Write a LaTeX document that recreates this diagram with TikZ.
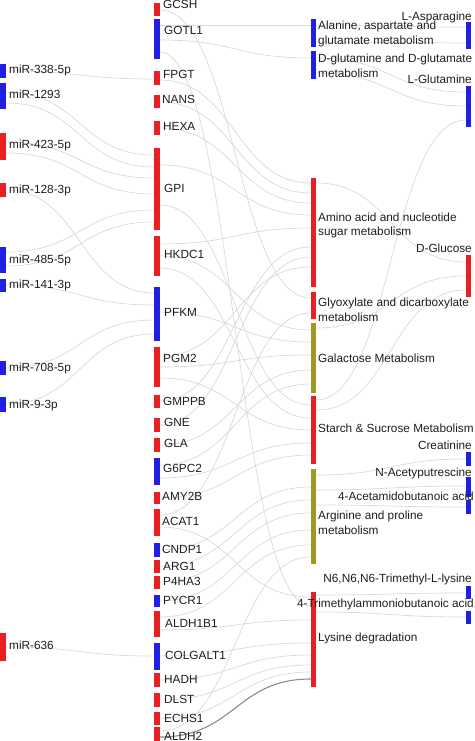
\documentclass[tikz,border=0pt]{standalone}
\usepackage{fontspec}
\setmainfont{Liberation Sans}
\definecolor{br}{RGB}{232,32,36}
\definecolor{bb}{RGB}{32,32,228}
\definecolor{bo}{RGB}{160,152,32}
\definecolor{txt}{RGB}{30,30,30}
\pgfdeclarelayer{bg}
\pgfsetlayers{bg,main}
\tikzset{
  barbox/.style={draw=none,inner sep=0pt,outer sep=0pt,minimum width=5.5pt},
  linkline/.style={draw=black!15,line width=0.7pt},
  darklink/.style={draw=black!45,line width=1.1pt},
  lab/.style={anchor=base west,inner sep=0pt,text=txt,font=\fontsize{11.8}{14.8}\selectfont},
  labr/.style={anchor=base east,inner sep=0pt,text=txt,font=\fontsize{11.8}{14.8}\selectfont},
  labm/.style={anchor=west,inner sep=0pt,align=left,text=txt,font=\fontsize{11.8}{14.8}\selectfont}
}
\newcommand{\barnode}[5]{\node[barbox,fill=#5,minimum height={(#4-#3)*1pt}] (#1) at (#2,{(#3+#4)/2}) {};}
\newcommand{\lnk}[5][]{\begin{pgfonlayer}{bg}\draw[linkline,#1] (#2.east |- 0,#3) .. controls +(75,0) and +(-75,0) .. (#4.west |- 0,#5);\end{pgfonlayer}}
\begin{document}
\begin{tikzpicture}[x=1pt,y=-1pt]
\useasboundingbox (0,0) rectangle (474,741);
% column 1
\barnode{m338}{3}{64}{78}{bb}
\barnode{m1293}{3}{83}{109}{bb}
\barnode{m423}{3}{133}{160}{br}
\barnode{m128}{3}{183}{197}{br}
\barnode{m485}{3}{247}{273}{bb}
\barnode{m141}{3}{279}{292}{bb}
\barnode{m708}{3}{361}{375}{bb}
\barnode{m9}{3}{397}{412}{bb}
\barnode{m636}{3}{633}{661}{br}
% column 2
\barnode{GCSH}{157}{3}{16}{br}
\barnode{GOTL1}{157}{19}{59}{bb}
\barnode{FPGT}{157}{71}{85}{br}
\barnode{NANS}{157}{95}{108}{br}
\barnode{HEXA}{157}{121}{135}{br}
\barnode{GPI}{157}{148}{230}{br}
\barnode{HKDC1}{157}{236}{276}{br}
\barnode{PFKM}{157}{287}{341}{bb}
\barnode{PGM2}{157}{347}{387}{br}
\barnode{GMPPB}{157}{395}{408}{br}
\barnode{GNE}{157}{418}{432}{br}
\barnode{GLA}{157}{438}{452}{br}
\barnode{G6PC2}{157}{458}{485}{bb}
\barnode{AMY2B}{157}{492}{504}{br}
\barnode{ACAT1}{157}{509}{536}{br}
\barnode{CNDP1}{157}{543}{557}{bb}
\barnode{ARG1}{157}{560}{573}{br}
\barnode{P4HA3}{157}{576}{589}{br}
\barnode{PYCR1}{157}{595}{607}{bb}
\barnode{ALDH1B1}{157}{611}{637}{br}
\barnode{COLGALT1}{157}{643}{670}{bb}
\barnode{HADH}{157}{673}{687}{br}
\barnode{DLST}{157}{693}{707}{br}
\barnode{ECHS1}{157}{712}{725}{br}
\barnode{ALDH2}{157}{727}{741}{br}
% column 3
\barnode{Ala}{313.5}{19}{47}{bb}
\barnode{Dgl}{313.5}{51}{79}{bb}
\barnode{Amino}{313.5}{178}{287}{br}
\barnode{Gly}{313.5}{292}{319}{br}
\barnode{Gal}{313.5}{323}{393}{bo}
\barnode{Starch}{313.5}{396}{464}{br}
\barnode{Arg}{313.5}{469}{564}{bo}
\barnode{Lys}{313.5}{592}{687}{br}
% column 4
\barnode{LAsn}{468.5}{22}{49}{bb}
\barnode{LGln}{468.5}{86}{127}{bb}
\barnode{DGlc}{468.5}{255}{297}{br}
\barnode{Creat}{468.5}{452}{466}{bb}
\barnode{NAcPut}{468.5}{477}{497}{bb}
\barnode{Acet}{468.5}{500}{514}{bb}
\barnode{N6}{468.5}{586}{599}{bb}
\barnode{TMAB}{468.5}{611}{624}{bb}
% links column 1 - column 2
\lnk{m338}{71}{FPGT}{79}
\lnk{m1293}{92}{GPI}{155}
\lnk{m1293}{103}{GPI}{167}
\lnk{m423}{142}{GPI}{178}
\lnk{m423}{153}{GPI}{194}
\lnk{m128}{190}{PFKM}{293}
\lnk{m485}{252}{GPI}{210}
\lnk{m485}{266}{GPI}{222}
\lnk{m141}{285}{PFKM}{305}
\lnk{m708}{368}{PFKM}{320}
\lnk{m9}{404}{PFKM}{334}
\lnk{m636}{647}{COLGALT1}{656}
% links column 2 - column 3
\lnk{GCSH}{10}{Gly}{298}
\lnk{GOTL1}{25}{Ala}{25}
\lnk{GOTL1}{40}{Dgl}{58}
\lnk{GOTL1}{52}{Lys}{606}
\lnk{FPGT}{80}{Amino}{183}
\lnk{NANS}{102}{Amino}{193}
\lnk{HEXA}{128}{Amino}{203}
\lnk{GPI}{165}{Amino}{215}
\lnk{GPI}{205}{Starch}{405}
\lnk{HKDC1}{244}{Amino}{228}
\lnk{HKDC1}{256}{Gal}{330}
\lnk{HKDC1}{268}{Starch}{418}
\lnk{PFKM}{312}{Gal}{342}
\lnk{PGM2}{356}{Amino}{267}
\lnk{PGM2}{367}{Gal}{355}
\lnk{PGM2}{378}{Starch}{430}
\lnk{GMPPB}{401}{Amino}{247}
\lnk{GNE}{425}{Amino}{257}
\lnk{GLA}{445}{Gal}{370}
\lnk{G6PC2}{465}{Gal}{384}
\lnk{G6PC2}{478}{Starch}{443}
\lnk{AMY2B}{498}{Starch}{455}
\lnk{ACAT1}{515}{Gly}{313}
\lnk{ACAT1}{527}{Lys}{597}
\lnk{CNDP1}{550}{Arg}{487}
\lnk{ARG1}{566}{Arg}{500}
\lnk{P4HA3}{582}{Arg}{513}
\lnk{PYCR1}{601}{Arg}{530}
\lnk{ALDH1B1}{617}{Arg}{545}
\lnk{ALDH1B1}{630}{Lys}{620}
\lnk{COLGALT1}{656}{Lys}{643}
\lnk{HADH}{680}{Lys}{655}
\lnk{DLST}{700}{Lys}{665}
\lnk{ECHS1}{718}{Lys}{672}
\lnk{ALDH2}{731}{Arg}{557}
\lnk[darklink]{ALDH2}{737}{Lys}{679}
% links column 3 - column 4
\lnk{Ala}{25}{LAsn}{27}
\lnk{Ala}{42}{LAsn}{43}
\lnk{Dgl}{58}{LGln}{92}
\lnk{Dgl}{73}{LGln}{106}
\lnk{Starch}{400}{LGln}{120}
\lnk{Amino}{183}{DGlc}{262}
\lnk{Gal}{328}{DGlc}{276}
\lnk{Starch}{410}{DGlc}{290}
\lnk{Arg}{475}{Creat}{459}
\lnk{Arg}{490}{NAcPut}{486}
\lnk{Arg}{505}{Acet}{507}
\lnk{Lys}{595}{N6}{593}
\lnk{Lys}{612}{TMAB}{617}
% labels column 1
\node[lab] (t338) at (9,74) {miR-338-5p};
\node[lab] (t1293) at (9,99) {miR-1293};
\node[lab] (t423) at (9,149) {miR-423-5p};
\node[lab] (t128) at (9,193) {miR-128-3p};
\node[lab] (t485) at (9,263) {miR-485-5p};
\node[lab] (t141) at (9,288) {miR-141-3p};
\node[lab] (t708) at (9,371) {miR-708-5p};
\node[lab] (t9) at (9,408) {miR-9-3p};
\node[lab] (t636) at (9,649) {miR-636};
% labels column 2
\node[lab] (tGCSH) at (163,9) {GCSH};
\node[lab] (tGOTL1) at (164,35) {GOTL1};
\node[lab] (tFPGT) at (163,79) {FPGT};
\node[lab] (tNANS) at (162,104) {NANS};
\node[lab] (tHEXA) at (163,131) {HEXA};
\node[lab] (tGPI) at (164,192) {GPI};
\node[lab] (tHKDC1) at (164,258) {HKDC1};
\node[lab] (tPFKM) at (164,316) {PFKM};
\node[lab] (tPGM2) at (163,362) {PGM2};
\node[lab] (tGMPPB) at (163,405) {GMPPB};
\node[lab] (tGNE) at (164,426) {GNE};
\node[lab] (tGLA) at (164,447) {GLA};
\node[lab] (tG6PC2) at (163,472) {G6PC2};
\node[lab] (tAMY2B) at (162,500) {AMY2B};
\node[lab] (tACAT1) at (162,525) {ACAT1};
\node[lab] (tCNDP1) at (162,553) {CNDP1};
\node[lab] (tARG1) at (163,570) {ARG1};
\node[lab] (tP4HA3) at (163,585) {P4HA3};
\node[lab] (tPYCR1) at (163,604) {PYCR1};
\node[lab] (tALDH1B1) at (165,627) {ALDH1B1};
\node[lab] (tCOLGALT1) at (165,659) {COLGALT1};
\node[lab] (tHADH) at (164,683) {HADH};
\node[lab] (tDLST) at (164,703) {DLST};
\node[lab] (tECHS1) at (164,722) {ECHS1};
\node[lab] (tALDH2) at (164,740) {ALDH2};
% labels column 3
\node[labm] (tAla) at (318,34) {Alanine, aspartate and\\glutamate metabolism};
\node[labm] (tDgl) at (318,65.5) {D-glutamine and D-glutamate\\metabolism};
\node[labm] (tAmino) at (318,225.5) {Amino acid and nucleotide\\sugar metabolism};
\node[labm] (tGly) at (318,309.5) {Glyoxylate and dicarboxylate\\metabolism};
\node[lab] (tGal) at (318,362) {Galactose Metabolism};
\node[lab] (tStarch) at (318,432) {Starch \& Sucrose Metabolism};
\node[labm] (tArg) at (318,523) {Arginine and proline\\metabolism};
\node[lab] (tLys) at (318,641) {Lysine degradation};
% labels column 4
\node[labr] (tLAsn) at (472,21) {L-Asparagine};
\node[labr] (tLGln) at (472,84) {L-Glutamine};
\node[labr] (tDGlc) at (472,252) {D-Glucose};
\node[labr] (tCreat) at (472,449) {Creatinine};
\node[labr] (tNAcPut) at (472,476) {N-Acetyputrescine};
\node[labr] (tAcet) at (474,500) {4-Acetamidobutanoic acid};
\node[labr] (tN6) at (472,582) {N6,N6,N6-Trimethyl-L-lysine};
\node[labr] (tTMAB) at (474,607) {4-Trimethylammoniobutanoic acid};
\end{tikzpicture}
\end{document}
